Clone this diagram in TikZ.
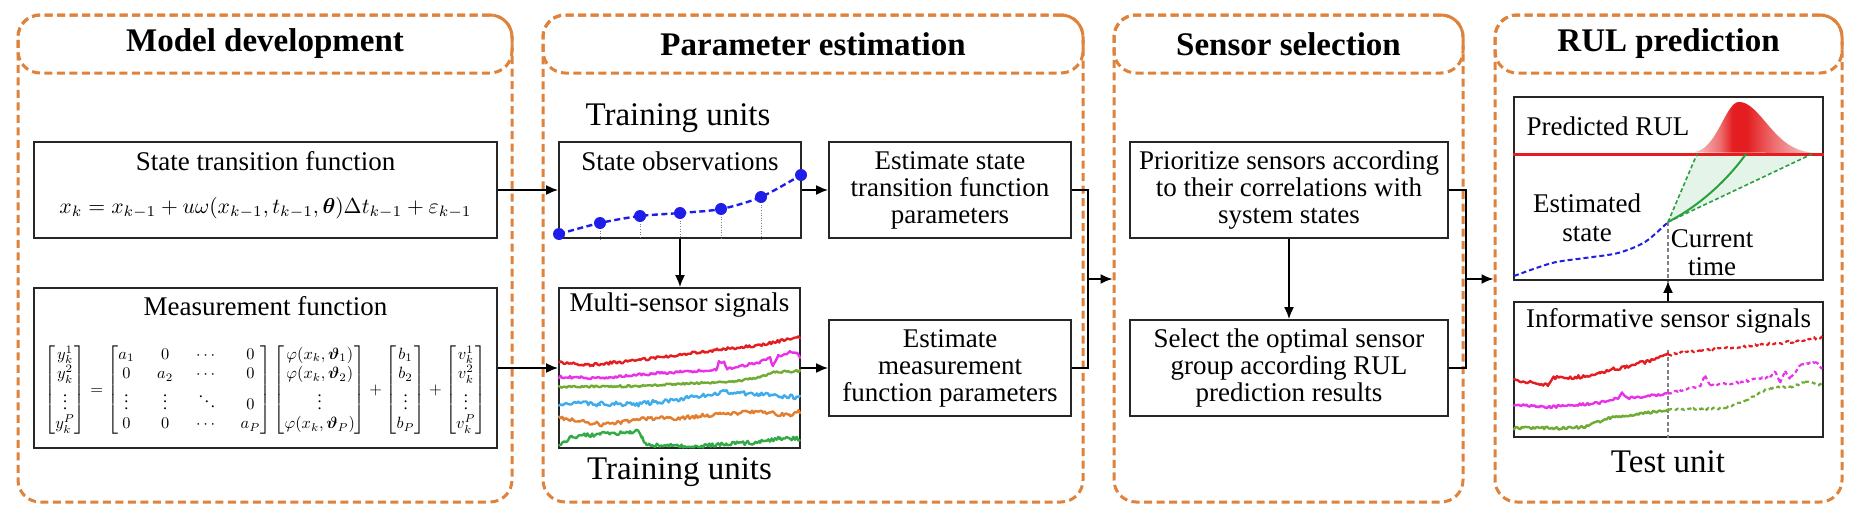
\documentclass[tikz,border=0pt]{standalone}
\usepackage{amsmath}
\usepackage{graphicx}
\usepackage{fontspec}
\setmainfont{Liberation Serif}
\usetikzlibrary{arrows.meta,calc}

\definecolor{porange}{RGB}{222,130,60}
\definecolor{sred}{RGB}{228,30,32}
\definecolor{smag}{RGB}{232,50,232}
\definecolor{solive}{RGB}{112,172,52}
\definecolor{ssky}{RGB}{62,172,235}
\definecolor{sorange}{RGB}{226,126,46}
\definecolor{sgreen}{RGB}{50,170,70}
\definecolor{pblue}{RGB}{30,30,232}
\definecolor{pgreen}{RGB}{40,160,60}

\newcommand\boxfont{\fontsize{27pt}{27pt}\selectfont}
\newcommand\bigfont{\fontsize{33pt}{36pt}\selectfont}
\newcommand\titlefont{\fontsize{33pt}{36pt}\selectfont\bfseries}

\pgfdeclarehorizontalshading{bell}{100bp}{color(0bp)=(sred!25!white); color(25bp)=(sred!25!white); color(36bp)=(sred!65!white); color(41bp)=(sred); color(47bp)=(sred); color(58bp)=(sred!65!white); color(75bp)=(sred!22!white); color(100bp)=(sred!22!white)}

\newcommand\signal[5]{%
  \foreach \xb/\yb [remember=\xb as \xa (initially #3), remember=\yb as \ya (initially #4)] in {#5} {%
    \pgfmathtruncatemacro\ns{max(3,(\xb-\xa)/1.5)}%
    \draw[#1] plot[domain=\xa:\xb, samples=\ns, variable=\t] (\t,{\ya+(\yb-\ya)*(\t-\xa)/(\xb-\xa)+#2*rand});%
  }}

\tikzset{
  panel/.style={draw=porange, line width=3pt, dash pattern=on 8pt off 4.5pt, rounded corners=22pt, inner sep=0pt},
  box/.style={draw=black!85, line width=1.8pt, inner sep=0pt},
  txt/.style={inner sep=0pt, align=center, font=\boxfont},
  arr/.style={line width=1.8pt, -{Latex[length=12pt,width=10pt]}},
  ln/.style={line width=1.8pt},
  sig/.style={line width=2.4pt, line cap=round, line join=round},
  dsig/.style={line width=2.2pt, dash pattern=on 4pt off 3pt},
}

\begin{document}
\begin{tikzpicture}[x=1pt,y=-1pt]
\useasboundingbox (0,0) rectangle (1865,530);
\fill[white] (0,0) rectangle (1865,530);
\pgfmathsetseed{7}

% ---------- panels ----------
\node[panel, minimum width=494pt, minimum height=487pt] (p1) at (265,258.5) {};
\node[panel, minimum width=494pt, minimum height=58pt, font=\titlefont] (p1t) at (265,44) {Model development};
\node[panel, minimum width=540pt, minimum height=487pt] (p2) at (813,258.5) {};
\node[panel, minimum width=540pt, minimum height=58pt, font=\titlefont] (p2t) at (813,44) {Parameter estimation};
\node[panel, minimum width=349pt, minimum height=487pt] (p3) at (1288.5,258.5) {};
\node[panel, minimum width=349pt, minimum height=58pt, font=\titlefont] (p3t) at (1288.5,44) {Sensor selection};
\node[panel, minimum width=347pt, minimum height=487pt] (p4) at (1668.5,258.5) {};
\node[panel, minimum width=347pt, minimum height=58pt, font=\titlefont] (p4t) at (1668.5,44) {RUL prediction};

% ---------- model development ----------
\node[box, minimum width=463pt, minimum height=96pt] (stf) at (265.5,190) {};
\node[txt] (stft) at (265.5,161) {State transition function};
\node[inner sep=0pt] (stfe) at (265.5,208) {\resizebox{412pt}{!}{$x_k = x_{k-1} + u\omega(x_{k-1}, t_{k-1}, \boldsymbol{\theta})\Delta t_{k-1} + \varepsilon_{k-1}$}};
\node[box, minimum width=463pt, minimum height=160pt] (mf) at (265.5,368) {};
\node[txt] (mft) at (265.5,306) {Measurement function};
\node[inner sep=0pt] (mfe) at (265.5,390) {\resizebox{442pt}{!}{\setlength\arraycolsep{7pt}\renewcommand\arraystretch{1.0}$\begin{bmatrix} y_k^1\\ y_k^2\\ \vdots\\ y_k^P\end{bmatrix} = \begin{bmatrix} a_1 & 0 & \cdots & 0\\ 0 & a_2 & \cdots & 0\\ \vdots & \vdots & \ddots & 0\\ 0 & 0 & \cdots & a_P\end{bmatrix}\begin{bmatrix}\varphi(x_k,\boldsymbol{\vartheta}_1)\\ \varphi(x_k,\boldsymbol{\vartheta}_2)\\ \vdots\\ \varphi(x_k,\boldsymbol{\vartheta}_P)\end{bmatrix} + \begin{bmatrix} b_1\\ b_2\\ \vdots\\ b_P\end{bmatrix} + \begin{bmatrix} v_k^1\\ v_k^2\\ \vdots\\ v_k^P\end{bmatrix}$}};

% ---------- parameter estimation ----------
\node[txt, font=\bigfont] (tu1) at (678,118) {Training units};
\node[box, minimum width=242pt, minimum height=96pt] (so) at (680,190) {};
\node[txt] (sot) at (680,161) {State observations};
\node[box, minimum width=241pt, minimum height=160pt] (ms) at (679.5,368) {};
\node[txt] (mst) at (679.5,305) {Multi-sensor signals};
\node[txt, font=\bigfont] (tu2) at (679.5,472) {Training units};
\node[box, txt, minimum width=242pt, minimum height=96pt] (es) at (950,190) {Estimate state\\transition function\\parameters};
\node[box, txt, minimum width=242pt, minimum height=96pt] (em) at (950,368) {Estimate\\measurement\\function parameters};

% state observations plot
\coordinate (o1) at (559,234);
\coordinate (o2) at (600,223);
\coordinate (o3) at (640,216);
\coordinate (o4) at (680,213);
\coordinate (o5) at (721,209);
\coordinate (o6) at (761,197);
\coordinate (o7) at (801,175);
\foreach \i in {2,...,6} \draw[gray, line width=0.6pt, dotted] (o\i) -- (o\i |- so.south);
\draw[pblue, line width=2.4pt, dash pattern=on 6pt off 3.5pt] plot[smooth] coordinates {(o1) (o2) (o3) (o4) (o5) (o6) (o7)};
\foreach \i in {1,...,7} \fill[pblue] (o\i) circle (6pt);

% multi-sensor signals
\signal{sig,sred}{1.4}{559}{362}{590/365, 640/360, 700/352, 760/345, 800/337}
\signal{sig,smag}{1.3}{559}{377}{600/378, 660/373, 716/370, 719/362, 724/362, 727/369, 760/362, 770/358, 773/366, 778/356, 790/352, 797/352, 800/358}
\signal{sig,solive}{1.0}{559}{387}{640/386, 740/381, 760/377, 775/372, 800/371}
\signal{sig,ssky}{2.4}{559}{405}{575/402, 600/404, 640/404, 680/399, 700/396, 720/392, 760/394, 800/398}
\signal{sig,sorange}{2.0}{559}{418}{580/421, 605/425, 640/419, 680/418, 720/414, 760/411, 790/416, 797/411, 800/412}
\signal{sig,sgreen}{2.0}{559}{447}{570/437, 600/434, 630/433, 636/429, 642/438, 646/445, 700/446, 760/442, 780/438, 800/439}

% connectors panel 1 -> 2 and inside panel 2
\draw[arr] (stf.east) -- (so.west);
\draw[arr] (mf.east) -- (ms.west);
\draw[arr] (so.east) -- (es.west);
\draw[arr] (ms.east) -- (em.west);
\draw[arr] (so.south) -- (so.south |- ms.north);
\coordinate (j1) at (1088,279);
\draw[ln] (es.east) -| (j1) |- (em.east);
\draw[arr] (j1) -- (j1 -| p3.west);

% ---------- sensor selection ----------
\node[box, txt, minimum width=318pt, minimum height=96pt] (pr) at (1289,190) {Prioritize sensors according\\to their correlations with\\system states};
\node[box, txt, minimum width=318pt, minimum height=96pt] (sel) at (1289,368) {Select the optimal sensor\\group according RUL\\prediction results};
\draw[arr] (pr.south) -- (sel.north);
\coordinate (j2) at (1466,279);
\draw[ln] (pr.east) -| (j2) |- (sel.east);
\draw[arr] (j2) -- (j2 -| p4.west);

% ---------- RUL prediction ----------
\node[box, minimum width=309pt, minimum height=183pt] (rp) at (1668.5,188.5) {};
\node[box, minimum width=309pt, minimum height=135pt] (ib) at (1668.5,369.5) {};
\coordinate (cur) at (1668,222);
\coordinate (gl) at (1697,154);
\coordinate (gm) at (1746,154);
\coordinate (gr) at (1812,154);
\fill[pgreen!12] (cur) -- (gl) -- (gr) -- cycle;
\shade[shading=bell] plot[domain=1694:1814, samples=120, variable=\t] (\t,{154-52*exp(-min(30,((\t-1739)/((\t<1739)*24+(\t>=1739)*38))*((\t-1739)/((\t<1739)*24+(\t>=1739)*38))))}) -- cycle;
\draw[sred, line width=3pt] (rp.west |- gl) -- (rp.east |- gl);
\draw[pgreen, line width=1.6pt, dash pattern=on 4pt off 2.5pt] (cur) -- (gl);
\draw[pgreen, line width=1.6pt, dash pattern=on 4pt off 2.5pt] (cur) -- (gr);
\draw[pgreen, line width=2pt] (cur) .. controls (1697,207) and (1725,183) .. (gm);
\draw[pblue, line width=2pt, dash pattern=on 5pt off 3pt] plot[smooth] coordinates {(1514,276) (1552,263) (1585,258) (1618,253) (1645,242) (cur)};
\draw[gray, line width=1.3pt, dash pattern=on 4pt off 2.5pt] (cur) -- (cur |- rp.south);
\node[txt] (prl) at (1608,126) {Predicted RUL};
\node[txt, font={\fontsize{27pt}{29pt}\selectfont}] (est) at (1587,218) {Estimated\\state};
\node[txt, font={\fontsize{27pt}{28pt}\selectfont}] (ct) at (1712,253) {Current\\time};
\node[txt] (isl) at (1668.5,321) {Informative sensor signals};
\node[txt, font=\bigfont] (tst) at (1668,462) {Test unit};
\coordinate (cb) at (1668,350);
\draw[gray, line width=1.3pt, dash pattern=on 4pt off 2.5pt] (cb) -- (cb |- ib.south);
\draw[arr] (ib.north -| cur) -- (rp.south -| cur);

% informative sensor signals
\signal{sig,sred}{1.8}{1514}{380}{1530/382, 1548/385, 1552/378, 1580/377, 1600/372, 1625/367, 1645/362, 1668/355}
\signal{dsig,sred}{1.2}{1668}{355}{1700/350, 1730/348, 1760/345, 1790/342, 1822/337}
\signal{sig,smag}{1.3}{1514}{405}{1550/407, 1600/403, 1618/398, 1622/392, 1626/398, 1650/396, 1668/393}
\signal{dsig,smag}{1.2}{1668}{393}{1700/386, 1705/376, 1710/386, 1740/382, 1770/377, 1775/372, 1780/383, 1785/372, 1790/378, 1800/366, 1815/362, 1822/368}
\signal{sig,solive}{1.4}{1514}{428}{1560/428, 1585/427, 1610/418, 1640/414, 1668/410}
\signal{dsig,solive}{1.0}{1668}{410}{1700/409, 1725/408, 1745/401, 1770/388, 1790/387, 1805/382, 1822/385}
\end{tikzpicture}
\end{document}
